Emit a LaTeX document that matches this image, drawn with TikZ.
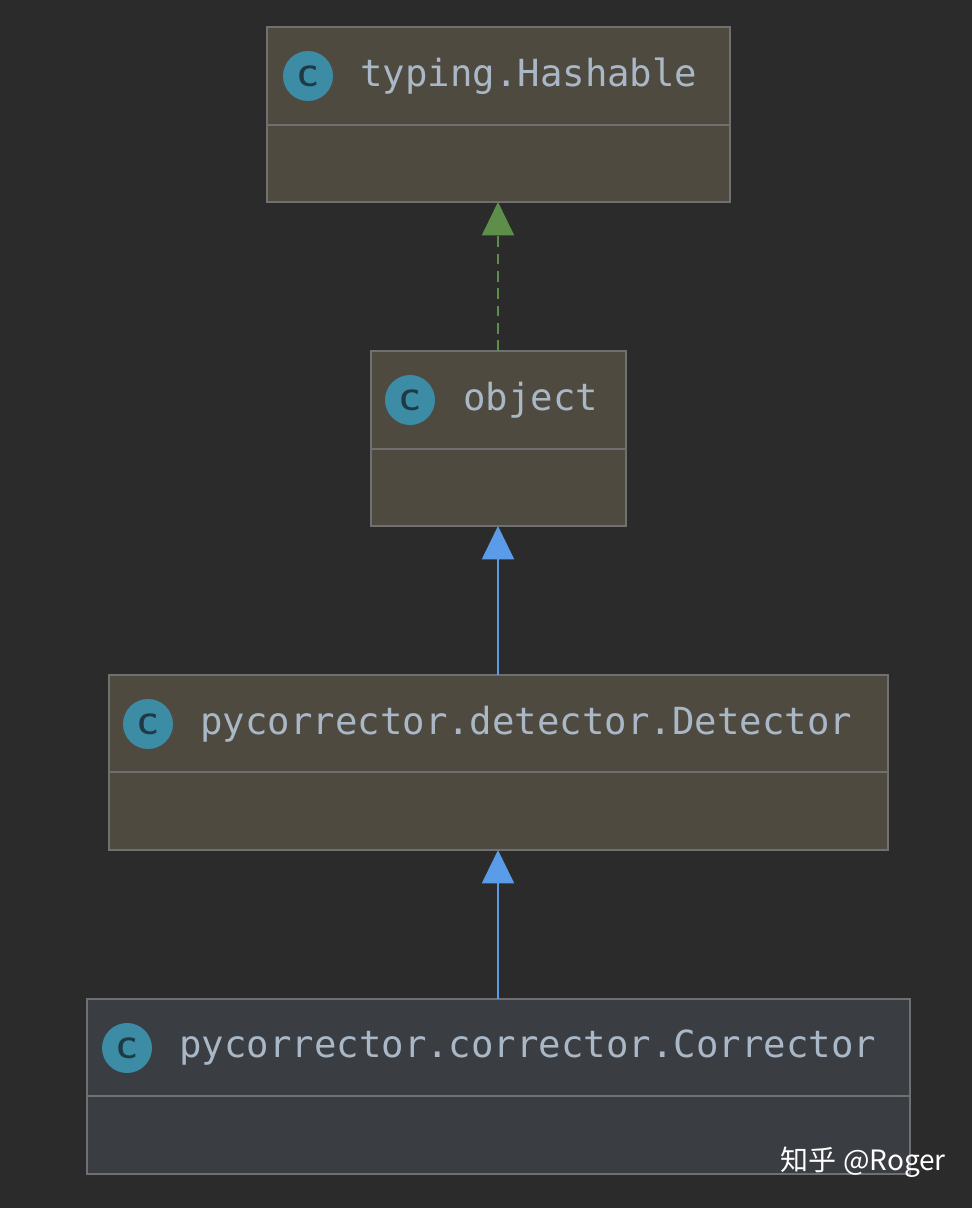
\documentclass[tikz,border=0pt]{standalone}
\usepackage{fontspec}
\setmonofont{DejaVu Sans Mono}
\newfontfamily\cjk{Noto Sans CJK SC}
\definecolor{bg}{HTML}{2B2B2B}
\definecolor{boxfill}{HTML}{4E4A40}
\definecolor{boxfillb}{HTML}{3A3D41}
\definecolor{boxline}{HTML}{707070}
\definecolor{txt}{HTML}{A9B7C6}
\definecolor{icon}{HTML}{3C8CA6}
\definecolor{icontxt}{HTML}{1F3A45}
\definecolor{garrow}{HTML}{5E8F4A}
\definecolor{barrow}{HTML}{5A9CE8}
\tikzset{
 cls/.style={draw=boxline,line width=1.5pt},
 sep/.style={draw=boxline,line width=1pt},
 lbl/.style={text=txt,font=\ttfamily\fontsize{28pt}{30pt}\selectfont,anchor=west,inner sep=0},
 ico/.style={circle,fill=icon,minimum size=37.5pt,inner sep=0,text=icontxt,font=\sffamily\bfseries\fontsize{22pt}{22pt}\selectfont},
 tri/.style={-{Triangle[width=24pt,length=25pt]},line width=1.6pt}
}
\usetikzlibrary{arrows.meta}
\begin{document}
\begin{tikzpicture}[x=0.75pt,y=-0.75pt]
\fill[bg] (0,0) rectangle (972,1208);
\useasboundingbox (0,0) rectangle (972,1208);
% box 1
\filldraw[cls,fill=boxfill] (267,27) rectangle (730,202);
\draw[sep] (267,125) -- (730,125);
\node[ico] (i1) at (308,76) {C};
\node[lbl] (t1) at (360,76) {typing.Hashable};
\coordinate (b1) at (498,202);
% box 2
\filldraw[cls,fill=boxfill] (371,351) rectangle (626,526);
\draw[sep] (371,449) -- (626,449);
\node[ico] (i2) at (410,400) {C};
\node[lbl] (t2) at (463,400) {object};
\coordinate (top2) at (498,351);
\coordinate (b2) at (498,526);
% box 3
\filldraw[cls,fill=boxfill] (109,675) rectangle (888,850);
\draw[sep] (109,772) -- (888,772);
\node[ico] (i3) at (148,724) {C};
\node[lbl] (t3) at (200,724) {pycorrector.detector.Detector};
\coordinate (top3) at (498,675);
\coordinate (b3) at (498,850);
% box 4
\filldraw[cls,fill=boxfillb] (87,999) rectangle (910,1174);
\draw[sep] (87,1096) -- (910,1096);
\node[ico] (i4) at (127,1048) {C};
\node[lbl] (t4) at (179,1048) {pycorrector.corrector.Corrector};
\coordinate (top4) at (498,999);
% arrows
\draw[tri,garrow,dashed,dash pattern=on 8pt off 5pt] (top2) -- (b1);
\draw[tri,barrow] (top3) -- (b2);
\draw[tri,barrow] (top4) -- (b3);
% watermark
\node[text=white,anchor=east,inner sep=0,font=\cjk\fontsize{21pt}{22pt}\selectfont] (wm) at (946,1162) {知乎 @Roger};
\end{tikzpicture}
\end{document}
